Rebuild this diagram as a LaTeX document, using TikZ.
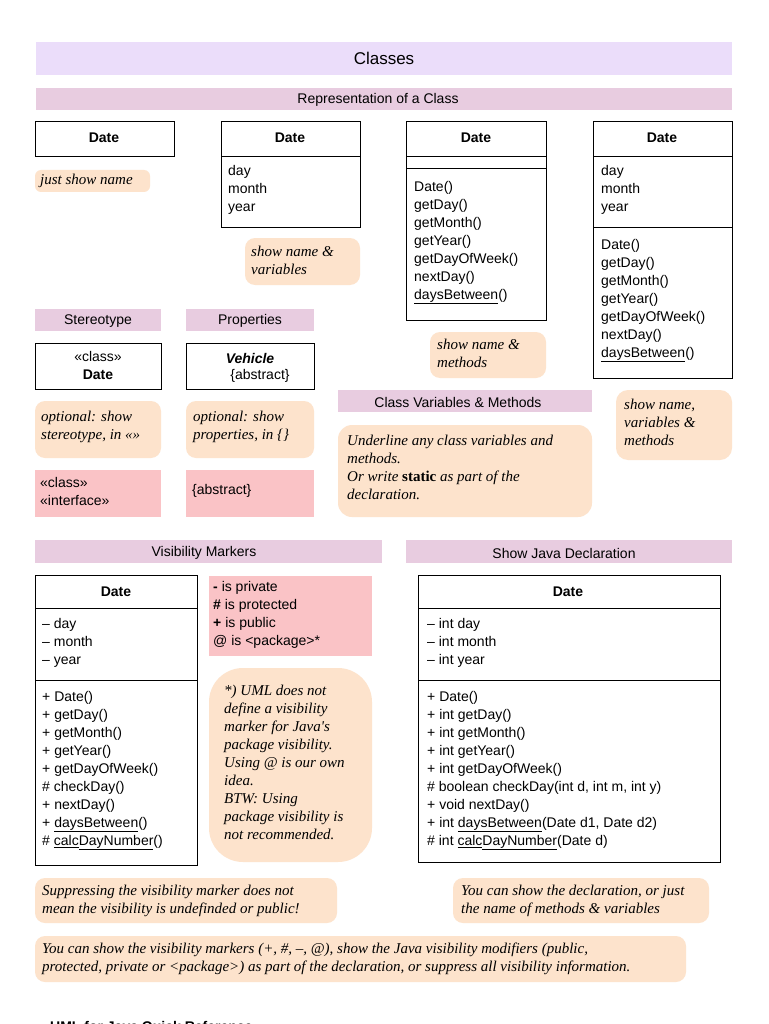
\documentclass[tikz,border=0pt]{standalone}
\usepackage{fontspec}
\setmainfont{Liberation Sans}
\newfontfamily\notefont{Liberation Serif}
\begin{document}
\begin{tikzpicture}[x=1pt,y=-1pt]
\definecolor{lav}{HTML}{EBDDFA}
\definecolor{hdr}{HTML}{E8CCE0}
\definecolor{peach}{HTML}{FDE3CC}
\definecolor{pinkb}{HTML}{FAC3C6}
\tikzset{
 hdrbox/.style={fill=hdr,draw=none},
 cls/.style={draw=black,line width=1pt,fill=white},
 notebox/.style={fill=peach,draw=none,rounded corners=#1},
 notebox/.default=6pt,
 pbox/.style={fill=pinkb,draw=none},
 txt/.style={anchor=north west,inner sep=0pt,align=left,font=\fontsize{14}{18}\selectfont},
 ntxt/.style={anchor=north west,inner sep=0pt,align=left,font=\fontsize{15}{18}\selectfont\notefont\itshape},
 ctxt/.style={inner sep=0pt,font=\fontsize{14}{18}\selectfont},
}
\path[use as bounding box,fill=white] (0,0) rectangle (768,1024);
\clip (0,0) rectangle (768,1024);
% title
\fill[lav] (36,42) rectangle (732,75);
\node[ctxt,font=\fontsize{17}{20}\selectfont] (title) at (384,58) {Classes};
\fill[hdrbox] (36,88) rectangle (732,110);
\node[ctxt] (rep) at (378,100) {Representation of a Class};
% box1
\draw[cls] (35,122) rectangle (174,157);
\node[ctxt,font=\fontsize{14}{18}\selectfont\bfseries] (b1) at (104,138) {Date};
\fill[notebox] (35,170) rectangle (150,192);
\node[ntxt] (n1) at (40,174) {just show name};
% box2
\draw[cls] (221,122) rectangle (360,228);
\draw[line width=1pt] (221,157) -- (360,157);
\node[ctxt,font=\fontsize{14}{18}\selectfont\bfseries] (b2) at (290,138) {Date};
\node[txt] (b2a) at (228,165) {day\\month\\year};
\fill[notebox=10pt] (245,238) rectangle (360,285);
\node[ntxt] (n2) at (251,246) {show name \&\\variables};
% box3
\draw[cls] (406,122) rectangle (546,320);
\draw[line width=1pt] (406,157) -- (546,157);
\draw[line width=1pt] (406,169) -- (546,169);
\node[ctxt,font=\fontsize{14}{18}\selectfont\bfseries] (b3) at (476,138) {Date};
\node[txt] (b3m) at (414,181) {Date()\\getDay()\\getMonth()\\getYear()\\getDayOfWeek()\\nextDay()\\\underline{daysBetween}()};
\fill[notebox=10pt] (430,332) rectangle (546,378);
\node[ntxt] (n3) at (437,339) {show name \&\\methods};
% box4
\draw[cls] (593,122) rectangle (732,378);
\draw[line width=1pt] (593,157) -- (732,157);
\draw[line width=1pt] (593,228) -- (732,228);
\node[ctxt,font=\fontsize{14}{18}\selectfont\bfseries] (b4) at (662,138) {Date};
\node[txt] (b4a) at (601,165) {day\\month\\year};
\node[txt] (b4m) at (601,239) {Date()\\getDay()\\getMonth()\\getYear()\\getDayOfWeek()\\nextDay()\\\underline{daysBetween}()};
\fill[notebox=12pt] (616,390) rectangle (732,460);
\node[ntxt] (n4) at (624,399) {show name,\\variables \&\\methods};
% stereotype / properties
\fill[hdrbox] (35,309) rectangle (161,331);
\node[ctxt] (st) at (98,321) {Stereotype};
\fill[hdrbox] (186,309) rectangle (314,331);
\node[ctxt] (pr) at (250,321) {Properties};
\draw[cls] (35,343) rectangle (161,389);
\node[ctxt,align=center] (b5) at (98,365) {«class»\\\textbf{Date}};
\draw[cls] (186,343) rectangle (314,389);
\node[ctxt,font=\fontsize{14}{18}\selectfont\bfseries\itshape] (b6) at (250,358) {Vehicle};
\node[ctxt] (b6p) at (260,376) {\{abstract\}};
\fill[notebox=10pt] (35,401) rectangle (161,458);
\node[ntxt] (n5) at (41,411) {optional: show\\stereotype, in «»};
\fill[notebox=10pt] (186,401) rectangle (314,458);
\node[ntxt] (n6) at (193,411) {optional: show\\properties, in \{\}};
\fill[pbox] (35,470) rectangle (161,517);
\node[txt] (p1) at (40,477) {«class»\\«interface»};
\fill[pbox] (186,470) rectangle (314,517);
\node[txt] (p2) at (192,484) {\{abstract\}};
% class vars
\fill[hdrbox] (338,390) rectangle (592,412);
\node[ctxt] (cv) at (458,402) {Class Variables \& Methods};
\fill[notebox=14pt] (338,425) rectangle (592,517);
\node[ntxt] (n7) at (347,435) {Underline any class variables and\\methods.\\Or write {\upshape\bfseries static} as part of the\\declaration.};
% visibility
\fill[hdrbox] (35,540) rectangle (382,563);
\node[ctxt] (vm) at (204,553) {Visibility Markers};
\fill[hdrbox] (406,540) rectangle (732,563);
\node[ctxt] (jd) at (564,553) {Show Java Declaration};
\draw[cls] (35,575) rectangle (197,865);
\draw[line width=1pt] (35,608) -- (197,608);
\draw[line width=1pt] (35,680) -- (197,680);
\node[ctxt,font=\fontsize{14}{18}\selectfont\bfseries] (b7) at (116,592) {Date};
\node[txt] (b7a) at (42,618) {– day\\– month\\– year};
\node[txt] (b7m) at (42,691) {+ Date()\\+ getDay()\\+ getMonth()\\+ getYear()\\+ getDayOfWeek()\\\# checkDay()\\+ nextDay()\\+ \underline{daysBetween}()\\\# \underline{calc}\underline{DayNumber}()};
\fill[pbox] (209,576) rectangle (372,656);
\node[txt] (p3) at (213,581) {\textbf{-} is private\\\textbf{\#} is protected\\\textbf{+} is public\\@ is <package>*};
\fill[notebox=34pt] (209,668) rectangle (372,862);
\node[ntxt] (n8) at (224,685) {*) UML does not\\define a visibility\\marker for Java's\\package visibility.\\Using @ is our own\\idea.\\BTW: Using\\package visibility is\\not recommended.};
\draw[cls] (418,575) rectangle (720,862);
\draw[line width=1pt] (418,608) -- (720,608);
\draw[line width=1pt] (418,680) -- (720,680);
\node[ctxt,font=\fontsize{14}{18}\selectfont\bfseries] (b8) at (568,592) {Date};
\node[txt] (b8a) at (427,618) {– int day\\– int month\\– int year};
\node[txt] (b8m) at (427,691) {+ Date()\\+ int getDay()\\+ int getMonth()\\+ int getYear()\\+ int getDayOfWeek()\\\# boolean checkDay(int d, int m, int y)\\+ void nextDay()\\+ int \underline{daysBetween}(Date d1, Date d2)\\\# int \underline{calc}\underline{DayNumber}(Date d)};
% bottom notes
\fill[notebox=10pt] (35,878) rectangle (337,923);
\node[ntxt] (n9) at (42,885) {Suppressing the visibility marker does not\\mean the visibility is undefinded or public!};
\fill[notebox=10pt] (453,878) rectangle (709,923);
\node[ntxt] (n10) at (461,885) {You can show the declaration, or just\\the name of methods \& variables};
\fill[notebox=10pt] (35,936) rectangle (686,982);
\node[ntxt] (n11) at (42,943) {You can show the visibility markers (+, \#, –, @), show the Java visibility modifiers (public,\\protected, private or <package>) as part of the declaration, or suppress all visibility information.};
\node[anchor=north west,inner sep=0pt,font=\fontsize{14}{18}\selectfont\bfseries] (foot) at (50,1021) {UML for Java Quick Reference};
\end{tikzpicture}
\end{document}
